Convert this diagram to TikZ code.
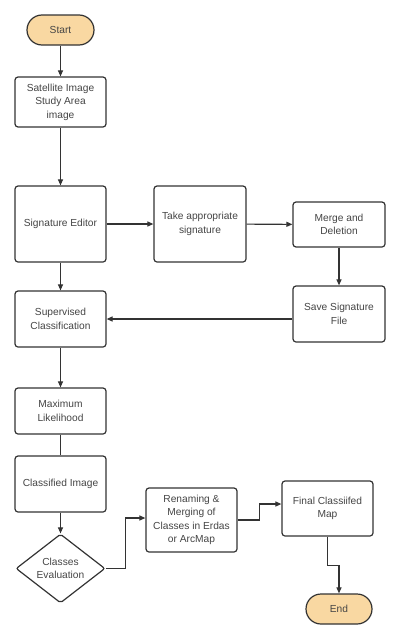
\documentclass[tikz,border=0pt]{standalone}
\usepackage{fontspec}
\setmainfont{Liberation Sans}
\usetikzlibrary{arrows.meta,shapes.geometric}
\definecolor{edge}{HTML}{333333}
\definecolor{txt}{HTML}{454545}
\definecolor{peach}{HTML}{F9D8A2}
\tikzset{
  box/.style={draw=edge, line width=1.2pt, rounded corners=3pt, fill=white, align=center,
    text=txt, font=\fontsize{10.2pt}{13.5pt}\selectfont, inner sep=2pt},
  term/.style={box, fill=peach, rounded corners=15pt},
  dia/.style={draw=edge, line width=1.2pt, diamond, aspect=1.29, inner sep=0pt, align=center,
    text=txt, font=\fontsize{10.2pt}{13.5pt}\selectfont, minimum width=89pt, minimum height=69pt, rounded corners=2pt},
  arr/.style={draw=edge, line width=1.1pt, -{Triangle[length=6pt,width=5pt]}},
  ln/.style={draw=edge, line width=1.1pt}
}
\begin{document}
\begin{tikzpicture}[x=1pt,y=1pt]
\useasboundingbox (0,0) rectangle (400,-640);
\node[term, minimum width=67pt, minimum height=30pt] (start) at (60.5,-30) {Start};
\node[box, minimum width=91pt, minimum height=50pt] (sat) at (60.5,-102) {Satellite Image\\Study Area\\image};
\node[box, minimum width=91pt, minimum height=76pt] (sig) at (60.5,-224) {Signature Editor};
\node[box, minimum width=92pt, minimum height=76pt] (take) at (200,-224) {Take appropriate\\signature};
\node[box, minimum width=92pt, minimum height=45pt] (merge) at (339,-224.5) {Merge and\\Deletion};
\node[box, minimum width=92pt, minimum height=56pt] (save) at (339,-314) {Save Signature\\File};
\node[box, minimum width=91pt, minimum height=56pt] (sup) at (60.5,-319) {Supervised\\Classification};
\node[box, minimum width=91pt, minimum height=46pt] (maxl) at (60.5,-411) {Maximum\\Likelihood};
\node[box, minimum width=91pt, minimum height=56pt] (cls) at (60.5,-484) {Classified Image};
\node[dia] (eval) at (60.5,-568.5) {Classes\\Evaluation};
\node[box, minimum width=91pt, minimum height=64pt] (ren) at (191.5,-520) {Renaming \&\\Merging of\\Classes in Erdas\\or ArcMap};
\node[box, minimum width=91pt, minimum height=55pt] (fin) at (327.5,-508.5) {Final Classiifed\\Map};
\node[term, minimum width=66pt, minimum height=30pt] (end) at (339,-609) {End};

\draw[arr] (start) -- (sat);
\draw[arr] (sat) -- (sig);
\draw[arr] (sig) -- (take);
\draw[arr] (take) -- (merge);
\draw[arr] (merge) -- (save);
\draw[arr] (save.west |- sup.east) -- (sup.east);
\draw[arr] (sig) -- (sup);
\draw[arr] (sup) -- (maxl);
\draw[ln] (maxl) -- (cls);
\draw[arr] (cls) -- (eval);
\draw[arr] (eval.east) -- ++(20,0) |- ([yshift=2pt]ren.west);
\draw[arr] (ren.east) -- ++(22,0) |- ([yshift=4.5pt]fin.west);
\draw[arr] (fin.south) -- ++(0,-29) -| (end.north);
\end{tikzpicture}
\end{document}
